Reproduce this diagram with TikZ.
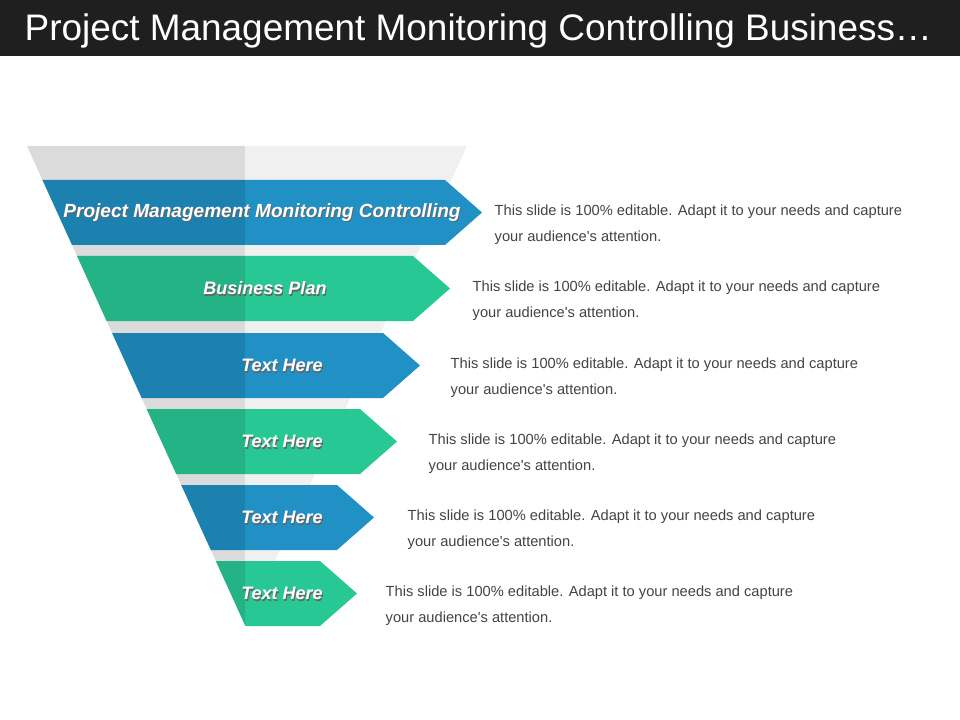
\documentclass[tikz,border=0pt]{standalone}
\usepackage{fontspec}
\setmainfont{Liberation Sans}
\definecolor{blu}{HTML}{2190C4}
\definecolor{grn}{HTML}{27C893}
\definecolor{txt}{HTML}{444444}
\begin{document}
\begin{tikzpicture}[x=0.75pt,y=-0.75pt,
  lbl/.style={text=white,font=\fontsize{13.5pt}{16pt}\selectfont\bfseries\itshape},
  shd/.style={text=black!60,font=\fontsize{13.5pt}{16pt}\selectfont\bfseries\itshape},
  desc/.style={text=txt,anchor=west,align=left,font=\fontsize{11pt}{19.5pt}\selectfont}]
\useasboundingbox (0,0) rectangle (960,720);
\fill[white] (0,0) rectangle (960,720);
\fill[black!88] (0,0) rectangle (960,56);
\node[text=white,font=\fontsize{27.7pt}{32pt}\selectfont,anchor=west] (title) at (20,31) {Project Management Monitoring Controlling Business…};
\fill[black!14] (27,146) -- (245,146) -- (245,625) -- cycle;
\fill[black!6] (245,146) -- (467,146) -- (245,625) -- cycle;
\foreach \i/\t/\b/\c/\lab/\lx/\dx/\fs in {
 1/180/445/blu/{Project Management Monitoring Controlling}/262/494/14.3,
 2/256/413/grn/{Business Plan}/265/472/13.5,
 3/333/383/blu/{Text Here}/282/450/13.5,
 4/409/360/grn/{Text Here}/282/428/13.5,
 5/485/337/blu/{Text Here}/282/407/13.5,
 6/561/320/grn/{Text Here}/282/385/13.5}{
  \pgfmathsetmacro\bt{\t+65}
  \pgfmathsetmacro\xl{27+0.455*(\t-146)}
  \pgfmathsetmacro\xb{27+0.455*(\bt-146)}
  \pgfmathsetmacro\my{\t+32.5}
  \pgfmathsetmacro\tip{\b+37}
  \fill[\c] (\xl,\t) -- (\b,\t) -- (\tip,\my) -- (\b,\bt) -- (\xb,\bt) -- cycle;
  \fill[black,opacity=0.1] (\xl,\t) -- (245,\t) -- (245,\bt) -- (\xb,\bt) -- cycle;
  \node[shd,font=\fontsize{\fs pt}{16pt}\selectfont\bfseries\itshape] at (\lx+1,\my+1.5) {\lab};
  \node[lbl,font=\fontsize{\fs pt}{16pt}\selectfont\bfseries\itshape] (l\i) at (\lx,\my) {\lab};
  \node[desc] (d\i) at (\dx-4,\my+12) {This slide is 100\% editable. Adapt it to your needs and capture\\your audience\textquotesingle s attention.};
}
\end{tikzpicture}
\end{document}
